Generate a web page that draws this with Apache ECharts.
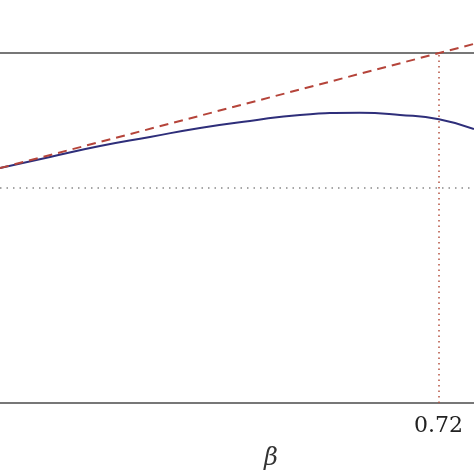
<!DOCTYPE html><html><head><meta charset="utf-8"><script src="https://cdn.jsdelivr.net/npm/echarts@6/dist/echarts.min.js"></script>
<style>html,body{margin:0;background:#fff}#c{width:474px;height:474px}</style></head><body><div id="c"></div><script>
const betaVals=[0,0.082,0.164,0.246,0.328,0.41,0.492,0.59,0.656,0.72,0.7774];
const blueVals=[0.671,0.703,0.734,0.760,0.786,0.806,0.823,0.829,0.823,0.811,0.783];
const dashedBeta=[0,0.7774];
const dashedVals=[0.671,1.026];
const dottedLevel=0.614;
const markBeta=0.72;
const tickLabel='0.72';
const chart=echarts.init(document.getElementById('c'));
chart.setOption({animation:false,
grid:{left:0,right:0,top:0,height:403},
xAxis:{type:'value',min:0,max:0.7774,show:false},
yAxis:{type:'value',min:0,max:1.1514,show:false},
graphic:[{type:'text',left:264,top:447,style:{text:'β',font:'italic 24px "DejaVu Serif"',fill:'#333'}},
{type:'text',left:414,top:415,style:{text:tickLabel,font:'22px "DejaVu Serif"',fill:'#222'}}],
series:[
{type:'line',data:[[0,1],[0.7774,1]],symbol:'none',lineStyle:{color:'#777',width:2},z:1},
{type:'line',data:[[0,0],[0.7774,0]],symbol:'none',lineStyle:{color:'#777',width:2},z:1},
{type:'line',data:[[0,dottedLevel],[0.7774,dottedLevel]],symbol:'none',lineStyle:{color:'#888',width:1.5,type:[1.5,5]},z:1},
{type:'line',data:[[markBeta,0],[markBeta,1]],symbol:'none',lineStyle:{color:'#b5503f',width:1.5,type:[1.5,4]},z:1},
{type:'line',data:betaVals.map((b,i)=>[b,blueVals[i]]),smooth:true,symbol:'none',lineStyle:{color:'#2e2e7a',width:2},z:3},
{type:'line',data:dashedBeta.map((b,i)=>[b,dashedVals[i]]),symbol:'none',clip:false,lineStyle:{color:'#b5443a',width:2,type:[9,6]},z:4}
]});
</script></body></html>
